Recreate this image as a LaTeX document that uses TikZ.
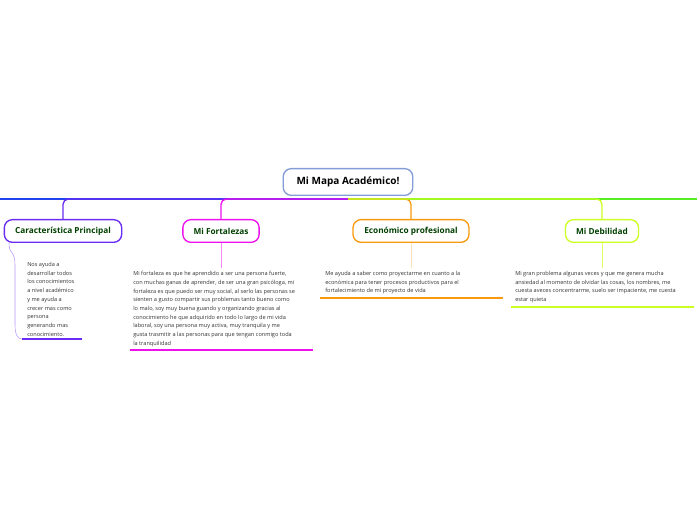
\documentclass[tikz,border=0pt]{standalone}
\usepackage{fontspec}
\setmainfont{Open Sans}
\begin{document}
\begin{tikzpicture}[x=0.75pt,y=-0.75pt,
  head/.style={draw,line width=1pt,rounded corners=6pt,minimum height=17pt,font=\fontsize{6.2}{7}\selectfont\bfseries,text=green!25!black,fill=white,inner xsep=8pt},
  body/.style={anchor=north west,align=left,inner sep=0pt,font=\fontsize{4.2}{6.55}\selectfont,text=black!80},
  br/.style={line width=1pt,rounded corners=4pt}]
\useasboundingbox (0,0) rectangle (697,520);
\definecolor{cpur}{HTML}{6A2CF5}
\definecolor{cmag}{HTML}{EE11EE}
\definecolor{cora}{HTML}{F99A0E}
\definecolor{cyel}{HTML}{CCFF22}
\definecolor{cgrn}{HTML}{55EE22}
\definecolor{cblu}{HTML}{2244EE}
\coordinate (hub) at (348,199);
\coordinate (lend) at (0,199);
\coordinate (rend) at (697,199);
\draw[line width=1pt,cblu] (hub) -- (lend);
\draw[line width=1pt,cgrn] (hub) -- (rend);
\node[head,draw=cyan!40!blue!50,text=black,font=\fontsize{7.5}{9}\selectfont\bfseries,minimum height=20pt,inner xsep=10pt] (root) at (348,182) {Mi Mapa Académico!};
\node[head,draw=cpur,minimum width=88pt] (a) at (63,231) {Característica Principal};
\node[head,draw=cmag] (b) at (221,231) {Mi Fortalezas};
\node[head,draw=cora,minimum width=87pt] (c) at (411,231) {Económico profesional};
\node[head,draw=cyel] (d) at (602,231) {Mi Debilidad};
\draw[br,cpur] (hub) -| (a.north);
\draw[br,cmag] (hub) -| (b.north);
\draw[br,cora] (hub) -| (c.north);
\draw[br,cyel] (hub) -| (d.north);
\node[body] (ta) at (27,262) {Nos ayuda a\\desarrollar todos\\los conocimientos\\a nivel académico\\y me ayuda a\\crecer mas como\\persona\\generando mas\\conocimiento.};
\node[body] (tb) at (133,271) {Mi fortaleza es que he aprendido a ser una persona fuerte,\\con muchas ganas de aprender, de ser una gran psicóloga, mi\\fortaleza es que puedo ser muy social, al serlo las personas se\\sienten a gusto compartir sus problemas tanto bueno como\\lo malo, soy muy buena guando y organizando gracias al\\conocimiento he que adquirido en todo lo largo de mi vida\\laboral, soy una persona muy activa, muy tranquila y me\\gusta trasmitir a las personas para que tengan conmigo toda\\la tranquilidad};
\node[body] (tc) at (325,271) {Me ayuda a saber como proyectarme en cuanto a la\\económica para tener procesos productivos para el\\fortalecimiento de mi proyecto de vida};
\node[body] (td) at (515,271) {Mi gran problema algunas veces y que me genera mucha\\ansiedad al momento de olvidar las cosas, los nombres, me\\cuesta aveces concentrarme, suelo ser impaciente, me cuesta\\estar quieta};
\coordinate (ua1) at (22,339); \coordinate (ua2) at (82,339);
\coordinate (ub1) at (130,350); \coordinate (ub2) at (313,350);
\coordinate (uc1) at (320,298); \coordinate (uc2) at (503,298);
\coordinate (ud1) at (511,307); \coordinate (ud2) at (694,307);
\draw[line width=1pt,cpur] (ua1) -- (ua2);
\draw[line width=1pt,cmag] (ub1) -- (ub2);
\draw[line width=1pt,cora] (uc1) -- (uc2);
\draw[line width=1pt,cyel] (ud1) -- (ud2);
\draw[cpur!50] (9,243) .. controls (9,255) and (15,250) .. (15,265) -- (15,325) .. controls (15,335) and (18,339) .. (ua1);
\draw[cmag!50] (b.south) -- (221,268);
\draw[cora!30] (c.south) -- (411,268);
\draw[cyel!70] (d.south) -- (602,268);
\end{tikzpicture}
\end{document}
